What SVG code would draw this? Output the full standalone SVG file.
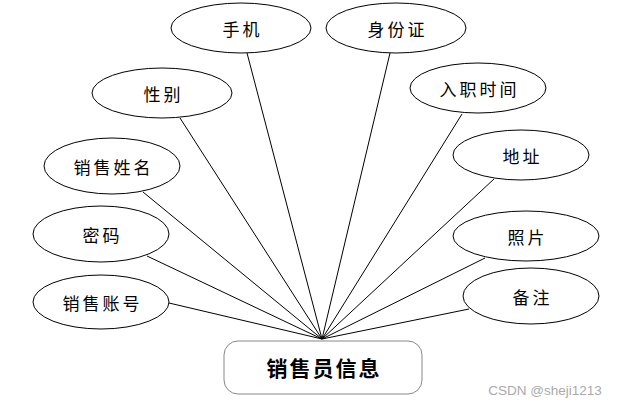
<svg xmlns="http://www.w3.org/2000/svg" width="621" height="407" viewBox="0 0 621 407">
<style>
.attr ellipse{fill:#fff;stroke:#000;stroke-width:1}
.attr text{font-family:"Noto Sans CJK SC","Liberation Sans",sans-serif;font-size:17px;letter-spacing:3px;text-anchor:middle;dominant-baseline:central;fill:#000}
#connectors line{stroke:#000;stroke-width:1}
</style>
<rect width="621" height="407" fill="#fff"/>
<g id="connectors">
<line x1="247" y1="53" x2="322" y2="339"/>
<line x1="390" y1="53" x2="322" y2="339"/>
<line x1="180" y1="118" x2="322" y2="339"/>
<line x1="462" y1="114" x2="322" y2="339"/>
<line x1="143" y1="192" x2="322" y2="339"/>
<line x1="494" y1="179" x2="322" y2="339"/>
<line x1="147" y1="256" x2="322" y2="339"/>
<line x1="169" y1="303" x2="322" y2="339"/>
<line x1="485" y1="258" x2="322" y2="339"/>
<line x1="469" y1="309" x2="322" y2="339"/>
</g>
<g id="n-shouji" class="attr"><ellipse cx="241" cy="28" rx="70" ry="25"/><text x="242.5" y="28">手机</text></g>
<g id="n-shenfenzheng" class="attr"><ellipse cx="396" cy="28" rx="70" ry="25"/><text x="397.5" y="28">身份证</text></g>
<g id="n-xingbie" class="attr"><ellipse cx="162" cy="93" rx="70" ry="25"/><text x="163.5" y="93">性别</text></g>
<g id="n-ruzhi" class="attr"><ellipse cx="478" cy="88" rx="68" ry="25"/><text x="479.5" y="88">入职时间</text></g>
<g id="n-xingming" class="attr"><ellipse cx="112" cy="166" rx="68" ry="28"/><text x="113.5" y="166">销售姓名</text></g>
<g id="n-dizhi" class="attr"><ellipse cx="521" cy="155" rx="68" ry="25"/><text x="522.5" y="155">地址</text></g>
<g id="n-mima" class="attr"><ellipse cx="101" cy="234" rx="68" ry="28"/><text x="102.5" y="234">密码</text></g>
<g id="n-zhanghao" class="attr"><ellipse cx="101" cy="302" rx="68" ry="27"/><text x="102.5" y="302">销售账号</text></g>
<g id="n-zhaopian" class="attr"><ellipse cx="526" cy="236" rx="73" ry="25"/><text x="527.5" y="236">照片</text></g>
<g id="n-beizhu" class="attr"><ellipse cx="531" cy="296" rx="68" ry="28"/><text x="532.5" y="296">备注</text></g>
<g id="n-main">
<rect x="224" y="341" width="198" height="53" rx="14" ry="14" fill="#fff" stroke="#888" stroke-width="1"/>
<text x="324" y="367" font-family="'Noto Sans CJK SC','Liberation Sans',sans-serif" font-size="21" font-weight="bold" letter-spacing="2" text-anchor="middle" dominant-baseline="central" fill="#000">销售员信息</text>
</g>
<text x="545" y="390" font-family="'Liberation Sans',Arial,sans-serif" font-size="13.5" fill="#aaa" text-anchor="middle" dominant-baseline="central">CSDN @sheji1213</text>
</svg>
